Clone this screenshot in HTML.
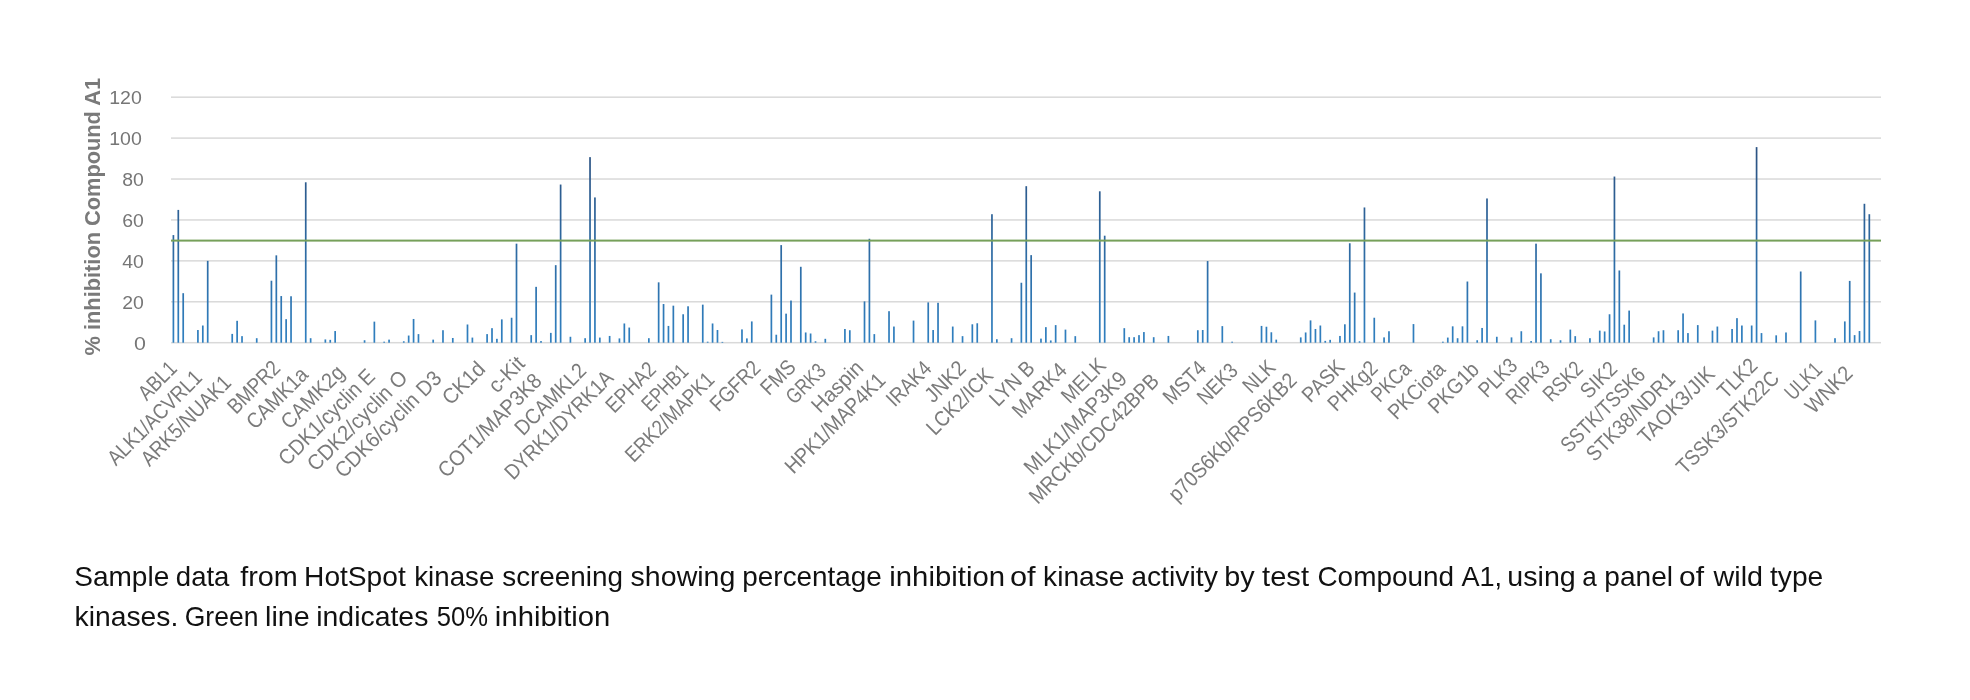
<!DOCTYPE html><html><head><meta charset="utf-8"><style>
html,body{margin:0;padding:0;background:#fff;}body{width:1970px;height:700px;overflow:hidden;position:relative;}
svg{position:absolute;left:0;top:0;will-change:transform;}
text{font-family:"Liberation Sans",sans-serif;}
</style></head><body>
<svg width="1970" height="700" viewBox="0 0 1970 700">
<defs><linearGradient id="bg" gradientUnits="userSpaceOnUse" x1="0" y1="343" x2="0" y2="150"><stop offset="0" stop-color="#3080c0"/><stop offset="1" stop-color="#2c5383"/></linearGradient></defs>
<rect x="171.0" y="341.95" width="1710.0" height="1.5" fill="#d9d9d9"/>
<rect x="171.0" y="301.03" width="1710.0" height="1.5" fill="#d9d9d9"/>
<rect x="171.0" y="260.11" width="1710.0" height="1.5" fill="#d9d9d9"/>
<rect x="171.0" y="219.19" width="1710.0" height="1.5" fill="#d9d9d9"/>
<rect x="171.0" y="178.27" width="1710.0" height="1.5" fill="#d9d9d9"/>
<rect x="171.0" y="137.35" width="1710.0" height="1.5" fill="#d9d9d9"/>
<rect x="171.0" y="96.43" width="1710.0" height="1.5" fill="#d9d9d9"/>
<rect x="172.55" y="235.08" width="1.7" height="107.62" fill="url(#bg)"/>
<rect x="177.45" y="209.91" width="1.7" height="132.79" fill="url(#bg)"/>
<rect x="182.35" y="293.19" width="1.7" height="49.51" fill="url(#bg)"/>
<rect x="197.06" y="330.01" width="1.7" height="12.69" fill="url(#bg)"/>
<rect x="201.96" y="325.51" width="1.7" height="17.19" fill="url(#bg)"/>
<rect x="206.86" y="260.86" width="1.7" height="81.84" fill="url(#bg)"/>
<rect x="231.37" y="333.90" width="1.7" height="8.80" fill="url(#bg)"/>
<rect x="236.27" y="320.81" width="1.7" height="21.89" fill="url(#bg)"/>
<rect x="241.17" y="336.15" width="1.7" height="6.55" fill="url(#bg)"/>
<rect x="255.88" y="338.20" width="1.7" height="4.50" fill="url(#bg)"/>
<rect x="270.58" y="280.71" width="1.7" height="61.99" fill="url(#bg)"/>
<rect x="275.48" y="255.34" width="1.7" height="87.36" fill="url(#bg)"/>
<rect x="280.38" y="296.05" width="1.7" height="46.65" fill="url(#bg)"/>
<rect x="285.28" y="319.17" width="1.7" height="23.53" fill="url(#bg)"/>
<rect x="290.19" y="296.26" width="1.7" height="46.44" fill="url(#bg)"/>
<rect x="304.89" y="182.29" width="1.7" height="160.41" fill="url(#bg)"/>
<rect x="309.79" y="338.20" width="1.7" height="4.50" fill="url(#bg)"/>
<rect x="324.50" y="339.43" width="1.7" height="3.27" fill="url(#bg)"/>
<rect x="329.40" y="339.84" width="1.7" height="2.86" fill="url(#bg)"/>
<rect x="334.30" y="331.04" width="1.7" height="11.66" fill="url(#bg)"/>
<rect x="363.71" y="340.24" width="1.7" height="2.46" fill="url(#bg)"/>
<rect x="373.51" y="321.63" width="1.7" height="21.07" fill="url(#bg)"/>
<rect x="383.31" y="341.68" width="1.7" height="1.02" fill="url(#bg)"/>
<rect x="388.22" y="339.63" width="1.7" height="3.07" fill="url(#bg)"/>
<rect x="402.92" y="341.27" width="1.7" height="1.43" fill="url(#bg)"/>
<rect x="407.82" y="335.54" width="1.7" height="7.16" fill="url(#bg)"/>
<rect x="412.72" y="318.97" width="1.7" height="23.73" fill="url(#bg)"/>
<rect x="417.62" y="334.11" width="1.7" height="8.59" fill="url(#bg)"/>
<rect x="432.33" y="339.63" width="1.7" height="3.07" fill="url(#bg)"/>
<rect x="442.13" y="330.22" width="1.7" height="12.48" fill="url(#bg)"/>
<rect x="451.94" y="337.99" width="1.7" height="4.71" fill="url(#bg)"/>
<rect x="466.64" y="324.49" width="1.7" height="18.21" fill="url(#bg)"/>
<rect x="471.54" y="337.58" width="1.7" height="5.11" fill="url(#bg)"/>
<rect x="486.25" y="334.11" width="1.7" height="8.59" fill="url(#bg)"/>
<rect x="491.15" y="328.17" width="1.7" height="14.53" fill="url(#bg)"/>
<rect x="496.05" y="338.81" width="1.7" height="3.89" fill="url(#bg)"/>
<rect x="500.95" y="319.38" width="1.7" height="23.32" fill="url(#bg)"/>
<rect x="510.75" y="317.74" width="1.7" height="24.96" fill="url(#bg)"/>
<rect x="515.65" y="243.67" width="1.7" height="99.03" fill="url(#bg)"/>
<rect x="530.36" y="335.13" width="1.7" height="7.57" fill="url(#bg)"/>
<rect x="535.26" y="286.84" width="1.7" height="55.86" fill="url(#bg)"/>
<rect x="540.16" y="341.06" width="1.7" height="1.64" fill="url(#bg)"/>
<rect x="549.97" y="332.88" width="1.7" height="9.82" fill="url(#bg)"/>
<rect x="554.87" y="265.16" width="1.7" height="77.54" fill="url(#bg)"/>
<rect x="559.77" y="184.54" width="1.7" height="158.16" fill="url(#bg)"/>
<rect x="569.57" y="336.77" width="1.7" height="5.93" fill="url(#bg)"/>
<rect x="584.28" y="338.20" width="1.7" height="4.50" fill="url(#bg)"/>
<rect x="589.18" y="157.13" width="1.7" height="185.57" fill="url(#bg)"/>
<rect x="594.08" y="197.43" width="1.7" height="145.27" fill="url(#bg)"/>
<rect x="598.98" y="337.58" width="1.7" height="5.11" fill="url(#bg)"/>
<rect x="608.78" y="335.95" width="1.7" height="6.75" fill="url(#bg)"/>
<rect x="618.59" y="338.40" width="1.7" height="4.30" fill="url(#bg)"/>
<rect x="623.49" y="323.47" width="1.7" height="19.23" fill="url(#bg)"/>
<rect x="628.39" y="327.56" width="1.7" height="15.14" fill="url(#bg)"/>
<rect x="648.00" y="338.20" width="1.7" height="4.50" fill="url(#bg)"/>
<rect x="657.80" y="282.34" width="1.7" height="60.36" fill="url(#bg)"/>
<rect x="662.70" y="304.03" width="1.7" height="38.67" fill="url(#bg)"/>
<rect x="667.60" y="325.92" width="1.7" height="16.78" fill="url(#bg)"/>
<rect x="672.50" y="305.67" width="1.7" height="37.03" fill="url(#bg)"/>
<rect x="682.31" y="314.26" width="1.7" height="28.44" fill="url(#bg)"/>
<rect x="687.21" y="306.28" width="1.7" height="36.42" fill="url(#bg)"/>
<rect x="701.91" y="304.64" width="1.7" height="38.06" fill="url(#bg)"/>
<rect x="706.81" y="341.68" width="1.7" height="1.02" fill="url(#bg)"/>
<rect x="711.72" y="323.47" width="1.7" height="19.23" fill="url(#bg)"/>
<rect x="716.62" y="330.01" width="1.7" height="12.69" fill="url(#bg)"/>
<rect x="721.52" y="341.88" width="1.7" height="0.82" fill="url(#bg)"/>
<rect x="741.12" y="329.40" width="1.7" height="13.30" fill="url(#bg)"/>
<rect x="746.03" y="338.40" width="1.7" height="4.30" fill="url(#bg)"/>
<rect x="750.93" y="321.42" width="1.7" height="21.28" fill="url(#bg)"/>
<rect x="770.53" y="294.62" width="1.7" height="48.08" fill="url(#bg)"/>
<rect x="775.43" y="334.72" width="1.7" height="7.98" fill="url(#bg)"/>
<rect x="780.34" y="245.11" width="1.7" height="97.59" fill="url(#bg)"/>
<rect x="785.24" y="313.65" width="1.7" height="29.05" fill="url(#bg)"/>
<rect x="790.14" y="300.55" width="1.7" height="42.15" fill="url(#bg)"/>
<rect x="799.94" y="266.79" width="1.7" height="75.91" fill="url(#bg)"/>
<rect x="804.84" y="332.47" width="1.7" height="10.23" fill="url(#bg)"/>
<rect x="809.75" y="333.49" width="1.7" height="9.21" fill="url(#bg)"/>
<rect x="814.65" y="341.27" width="1.7" height="1.43" fill="url(#bg)"/>
<rect x="824.45" y="338.81" width="1.7" height="3.89" fill="url(#bg)"/>
<rect x="844.06" y="328.99" width="1.7" height="13.71" fill="url(#bg)"/>
<rect x="848.96" y="330.22" width="1.7" height="12.48" fill="url(#bg)"/>
<rect x="863.66" y="301.37" width="1.7" height="41.33" fill="url(#bg)"/>
<rect x="868.56" y="238.76" width="1.7" height="103.94" fill="url(#bg)"/>
<rect x="873.46" y="334.11" width="1.7" height="8.59" fill="url(#bg)"/>
<rect x="888.17" y="311.19" width="1.7" height="31.51" fill="url(#bg)"/>
<rect x="893.07" y="326.54" width="1.7" height="16.16" fill="url(#bg)"/>
<rect x="912.68" y="320.60" width="1.7" height="22.10" fill="url(#bg)"/>
<rect x="927.38" y="302.39" width="1.7" height="40.31" fill="url(#bg)"/>
<rect x="932.28" y="330.01" width="1.7" height="12.69" fill="url(#bg)"/>
<rect x="937.18" y="302.80" width="1.7" height="39.90" fill="url(#bg)"/>
<rect x="951.89" y="326.54" width="1.7" height="16.16" fill="url(#bg)"/>
<rect x="961.69" y="336.15" width="1.7" height="6.55" fill="url(#bg)"/>
<rect x="971.49" y="324.29" width="1.7" height="18.41" fill="url(#bg)"/>
<rect x="976.40" y="323.26" width="1.7" height="19.44" fill="url(#bg)"/>
<rect x="991.10" y="214.21" width="1.7" height="128.49" fill="url(#bg)"/>
<rect x="996.00" y="339.22" width="1.7" height="3.48" fill="url(#bg)"/>
<rect x="1010.71" y="338.20" width="1.7" height="4.50" fill="url(#bg)"/>
<rect x="1020.51" y="282.75" width="1.7" height="59.95" fill="url(#bg)"/>
<rect x="1025.41" y="186.18" width="1.7" height="156.52" fill="url(#bg)"/>
<rect x="1030.31" y="255.13" width="1.7" height="87.57" fill="url(#bg)"/>
<rect x="1040.12" y="338.61" width="1.7" height="4.09" fill="url(#bg)"/>
<rect x="1045.02" y="327.15" width="1.7" height="15.55" fill="url(#bg)"/>
<rect x="1049.92" y="340.45" width="1.7" height="2.25" fill="url(#bg)"/>
<rect x="1054.82" y="325.10" width="1.7" height="17.60" fill="url(#bg)"/>
<rect x="1064.62" y="329.61" width="1.7" height="13.09" fill="url(#bg)"/>
<rect x="1074.43" y="336.15" width="1.7" height="6.55" fill="url(#bg)"/>
<rect x="1098.93" y="191.30" width="1.7" height="151.40" fill="url(#bg)"/>
<rect x="1103.84" y="235.69" width="1.7" height="107.01" fill="url(#bg)"/>
<rect x="1123.44" y="328.17" width="1.7" height="14.53" fill="url(#bg)"/>
<rect x="1128.34" y="337.18" width="1.7" height="5.52" fill="url(#bg)"/>
<rect x="1133.24" y="337.18" width="1.7" height="5.52" fill="url(#bg)"/>
<rect x="1138.15" y="335.13" width="1.7" height="7.57" fill="url(#bg)"/>
<rect x="1143.05" y="332.06" width="1.7" height="10.64" fill="url(#bg)"/>
<rect x="1152.85" y="337.18" width="1.7" height="5.52" fill="url(#bg)"/>
<rect x="1167.55" y="335.95" width="1.7" height="6.75" fill="url(#bg)"/>
<rect x="1196.96" y="330.22" width="1.7" height="12.48" fill="url(#bg)"/>
<rect x="1201.87" y="330.01" width="1.7" height="12.69" fill="url(#bg)"/>
<rect x="1206.77" y="261.06" width="1.7" height="81.64" fill="url(#bg)"/>
<rect x="1221.47" y="326.13" width="1.7" height="16.57" fill="url(#bg)"/>
<rect x="1231.27" y="341.68" width="1.7" height="1.02" fill="url(#bg)"/>
<rect x="1260.68" y="325.92" width="1.7" height="16.78" fill="url(#bg)"/>
<rect x="1265.58" y="326.74" width="1.7" height="15.96" fill="url(#bg)"/>
<rect x="1270.49" y="332.27" width="1.7" height="10.43" fill="url(#bg)"/>
<rect x="1275.39" y="339.63" width="1.7" height="3.07" fill="url(#bg)"/>
<rect x="1299.90" y="337.38" width="1.7" height="5.32" fill="url(#bg)"/>
<rect x="1304.80" y="332.47" width="1.7" height="10.23" fill="url(#bg)"/>
<rect x="1309.70" y="320.40" width="1.7" height="22.30" fill="url(#bg)"/>
<rect x="1314.60" y="328.99" width="1.7" height="13.71" fill="url(#bg)"/>
<rect x="1319.50" y="325.51" width="1.7" height="17.19" fill="url(#bg)"/>
<rect x="1324.40" y="340.86" width="1.7" height="1.84" fill="url(#bg)"/>
<rect x="1329.30" y="339.84" width="1.7" height="2.86" fill="url(#bg)"/>
<rect x="1339.11" y="335.95" width="1.7" height="6.75" fill="url(#bg)"/>
<rect x="1344.01" y="324.29" width="1.7" height="18.41" fill="url(#bg)"/>
<rect x="1348.91" y="243.26" width="1.7" height="99.44" fill="url(#bg)"/>
<rect x="1353.81" y="292.57" width="1.7" height="50.13" fill="url(#bg)"/>
<rect x="1358.71" y="341.27" width="1.7" height="1.43" fill="url(#bg)"/>
<rect x="1363.61" y="207.46" width="1.7" height="135.24" fill="url(#bg)"/>
<rect x="1373.42" y="317.74" width="1.7" height="24.96" fill="url(#bg)"/>
<rect x="1383.22" y="337.38" width="1.7" height="5.32" fill="url(#bg)"/>
<rect x="1388.12" y="331.24" width="1.7" height="11.46" fill="url(#bg)"/>
<rect x="1412.63" y="324.08" width="1.7" height="18.62" fill="url(#bg)"/>
<rect x="1442.04" y="341.68" width="1.7" height="1.02" fill="url(#bg)"/>
<rect x="1446.94" y="337.58" width="1.7" height="5.11" fill="url(#bg)"/>
<rect x="1451.84" y="326.33" width="1.7" height="16.37" fill="url(#bg)"/>
<rect x="1456.74" y="338.20" width="1.7" height="4.50" fill="url(#bg)"/>
<rect x="1461.64" y="326.33" width="1.7" height="16.37" fill="url(#bg)"/>
<rect x="1466.55" y="281.52" width="1.7" height="61.18" fill="url(#bg)"/>
<rect x="1476.35" y="340.24" width="1.7" height="2.46" fill="url(#bg)"/>
<rect x="1481.25" y="327.97" width="1.7" height="14.73" fill="url(#bg)"/>
<rect x="1486.15" y="198.46" width="1.7" height="144.24" fill="url(#bg)"/>
<rect x="1495.96" y="336.77" width="1.7" height="5.93" fill="url(#bg)"/>
<rect x="1510.66" y="337.38" width="1.7" height="5.32" fill="url(#bg)"/>
<rect x="1520.46" y="331.24" width="1.7" height="11.46" fill="url(#bg)"/>
<rect x="1530.27" y="341.06" width="1.7" height="1.64" fill="url(#bg)"/>
<rect x="1535.17" y="243.67" width="1.7" height="99.03" fill="url(#bg)"/>
<rect x="1540.07" y="273.34" width="1.7" height="69.36" fill="url(#bg)"/>
<rect x="1549.87" y="339.22" width="1.7" height="3.48" fill="url(#bg)"/>
<rect x="1559.67" y="340.24" width="1.7" height="2.46" fill="url(#bg)"/>
<rect x="1569.48" y="329.61" width="1.7" height="13.09" fill="url(#bg)"/>
<rect x="1574.38" y="336.15" width="1.7" height="6.55" fill="url(#bg)"/>
<rect x="1589.08" y="338.20" width="1.7" height="4.50" fill="url(#bg)"/>
<rect x="1598.89" y="330.63" width="1.7" height="12.07" fill="url(#bg)"/>
<rect x="1603.79" y="331.45" width="1.7" height="11.25" fill="url(#bg)"/>
<rect x="1608.69" y="314.26" width="1.7" height="28.44" fill="url(#bg)"/>
<rect x="1613.59" y="176.56" width="1.7" height="166.14" fill="url(#bg)"/>
<rect x="1618.49" y="270.48" width="1.7" height="72.22" fill="url(#bg)"/>
<rect x="1623.39" y="324.70" width="1.7" height="18.00" fill="url(#bg)"/>
<rect x="1628.30" y="310.58" width="1.7" height="32.12" fill="url(#bg)"/>
<rect x="1652.80" y="337.38" width="1.7" height="5.32" fill="url(#bg)"/>
<rect x="1657.70" y="331.24" width="1.7" height="11.46" fill="url(#bg)"/>
<rect x="1662.61" y="330.22" width="1.7" height="12.48" fill="url(#bg)"/>
<rect x="1677.31" y="330.22" width="1.7" height="12.48" fill="url(#bg)"/>
<rect x="1682.21" y="313.44" width="1.7" height="29.26" fill="url(#bg)"/>
<rect x="1687.11" y="333.08" width="1.7" height="9.62" fill="url(#bg)"/>
<rect x="1696.92" y="325.10" width="1.7" height="17.60" fill="url(#bg)"/>
<rect x="1711.62" y="330.63" width="1.7" height="12.07" fill="url(#bg)"/>
<rect x="1716.52" y="326.54" width="1.7" height="16.16" fill="url(#bg)"/>
<rect x="1731.23" y="328.99" width="1.7" height="13.71" fill="url(#bg)"/>
<rect x="1736.13" y="318.15" width="1.7" height="24.55" fill="url(#bg)"/>
<rect x="1741.03" y="325.51" width="1.7" height="17.19" fill="url(#bg)"/>
<rect x="1750.83" y="325.51" width="1.7" height="17.19" fill="url(#bg)"/>
<rect x="1755.73" y="147.10" width="1.7" height="195.60" fill="url(#bg)"/>
<rect x="1760.64" y="333.08" width="1.7" height="9.62" fill="url(#bg)"/>
<rect x="1775.34" y="335.33" width="1.7" height="7.37" fill="url(#bg)"/>
<rect x="1785.14" y="332.47" width="1.7" height="10.23" fill="url(#bg)"/>
<rect x="1799.85" y="271.50" width="1.7" height="71.20" fill="url(#bg)"/>
<rect x="1814.55" y="320.40" width="1.7" height="22.30" fill="url(#bg)"/>
<rect x="1834.16" y="338.20" width="1.7" height="4.50" fill="url(#bg)"/>
<rect x="1843.96" y="321.42" width="1.7" height="21.28" fill="url(#bg)"/>
<rect x="1848.86" y="280.91" width="1.7" height="61.79" fill="url(#bg)"/>
<rect x="1853.76" y="335.13" width="1.7" height="7.57" fill="url(#bg)"/>
<rect x="1858.67" y="331.04" width="1.7" height="11.66" fill="url(#bg)"/>
<rect x="1863.57" y="203.78" width="1.7" height="138.92" fill="url(#bg)"/>
<rect x="1868.47" y="214.21" width="1.7" height="128.49" fill="url(#bg)"/>
<rect x="171.0" y="239.60" width="1710.0" height="2.0" fill="#76a05a"/>
<text x="146.0" y="349.70" text-anchor="end" font-size="17.5" fill="#767676" textLength="11.9" lengthAdjust="spacingAndGlyphs">0</text>
<text x="143.9" y="308.78" text-anchor="end" font-size="17.5" fill="#767676" textLength="21.6" lengthAdjust="spacingAndGlyphs">20</text>
<text x="143.9" y="267.86" text-anchor="end" font-size="17.5" fill="#767676" textLength="21.6" lengthAdjust="spacingAndGlyphs">40</text>
<text x="143.9" y="226.94" text-anchor="end" font-size="17.5" fill="#767676" textLength="21.6" lengthAdjust="spacingAndGlyphs">60</text>
<text x="143.9" y="186.02" text-anchor="end" font-size="17.5" fill="#767676" textLength="21.6" lengthAdjust="spacingAndGlyphs">80</text>
<text x="141.8" y="145.10" text-anchor="end" font-size="17.5" fill="#767676" textLength="32.6" lengthAdjust="spacingAndGlyphs">100</text>
<text x="141.8" y="104.18" text-anchor="end" font-size="17.5" fill="#767676" textLength="32.6" lengthAdjust="spacingAndGlyphs">120</text>
<text transform="translate(99.6,216.7) rotate(-90)" text-anchor="middle" font-size="22" font-weight="bold" fill="#7a7a7a" textLength="277.4" lengthAdjust="spacingAndGlyphs">% inhibition Compound A1</text>
<text x="74.22" y="586" font-size="28" fill="#111" textLength="95.02" lengthAdjust="spacingAndGlyphs">Sample</text>
<text x="175.84" y="586" font-size="28" fill="#111" textLength="53.61" lengthAdjust="spacingAndGlyphs">data</text>
<text x="240.18" y="586" font-size="28" fill="#111" textLength="57.57" lengthAdjust="spacingAndGlyphs">from</text>
<text x="304.07" y="586" font-size="28" fill="#111" textLength="101.66" lengthAdjust="spacingAndGlyphs">HotSpot</text>
<text x="414.28" y="586" font-size="28" fill="#111" textLength="80.02" lengthAdjust="spacingAndGlyphs">kinase</text>
<text x="502.21" y="586" font-size="28" fill="#111" textLength="120.79" lengthAdjust="spacingAndGlyphs">screening</text>
<text x="630.60" y="586" font-size="28" fill="#111" textLength="104.77" lengthAdjust="spacingAndGlyphs">showing</text>
<text x="742.36" y="586" font-size="28" fill="#111" textLength="139.51" lengthAdjust="spacingAndGlyphs">percentage</text>
<text x="889.30" y="586" font-size="28" fill="#111" textLength="115.75" lengthAdjust="spacingAndGlyphs">inhibition</text>
<text x="1010.01" y="586" font-size="28" fill="#111" textLength="25.64" lengthAdjust="spacingAndGlyphs">of</text>
<text x="1043.08" y="586" font-size="28" fill="#111" textLength="81.41" lengthAdjust="spacingAndGlyphs">kinase</text>
<text x="1131.15" y="586" font-size="28" fill="#111" textLength="86.67" lengthAdjust="spacingAndGlyphs">activity</text>
<text x="1224.28" y="586" font-size="28" fill="#111" textLength="30.39" lengthAdjust="spacingAndGlyphs">by</text>
<text x="1262.08" y="586" font-size="28" fill="#111" textLength="46.94" lengthAdjust="spacingAndGlyphs">test</text>
<text x="1317.44" y="586" font-size="28" fill="#111" textLength="136.61" lengthAdjust="spacingAndGlyphs">Compound</text>
<text x="1461.39" y="586" font-size="28" fill="#111" textLength="40.72" lengthAdjust="spacingAndGlyphs">A1,</text>
<text x="1507.32" y="586" font-size="28" fill="#111" textLength="68.43" lengthAdjust="spacingAndGlyphs">using</text>
<text x="1582.19" y="586" font-size="28" fill="#111" textLength="14.50" lengthAdjust="spacingAndGlyphs">a</text>
<text x="1604.34" y="586" font-size="28" fill="#111" textLength="68.67" lengthAdjust="spacingAndGlyphs">panel</text>
<text x="1679.04" y="586" font-size="28" fill="#111" textLength="25.00" lengthAdjust="spacingAndGlyphs">of</text>
<text x="1713.58" y="586" font-size="28" fill="#111" textLength="49.44" lengthAdjust="spacingAndGlyphs">wild</text>
<text x="1770.03" y="586" font-size="28" fill="#111" textLength="53.25" lengthAdjust="spacingAndGlyphs">type</text>
<text x="74.63" y="626" font-size="28" fill="#111" textLength="103.69" lengthAdjust="spacingAndGlyphs">kinases.</text>
<text x="184.75" y="626" font-size="28" fill="#111" textLength="73.62" lengthAdjust="spacingAndGlyphs">Green</text>
<text x="265.04" y="626" font-size="28" fill="#111" textLength="44.64" lengthAdjust="spacingAndGlyphs">line</text>
<text x="316.28" y="626" font-size="28" fill="#111" textLength="112.08" lengthAdjust="spacingAndGlyphs">indicates</text>
<text x="436.82" y="626" font-size="28" fill="#111" textLength="51.28" lengthAdjust="spacingAndGlyphs">50%</text>
<text x="494.88" y="626" font-size="28" fill="#111" textLength="115.50" lengthAdjust="spacingAndGlyphs">inhibition</text>
<text transform="translate(178.25,369.80) rotate(-45)" text-anchor="end" font-size="21.5" fill="#7b7b7b" textLength="44.73" lengthAdjust="spacingAndGlyphs">ABL1</text>
<text transform="translate(203.35,379.00) rotate(-45)" text-anchor="end" font-size="21.5" fill="#7b7b7b" textLength="123.69" lengthAdjust="spacingAndGlyphs">ALK1/ACVRL1</text>
<text transform="translate(232.45,384.20) rotate(-45)" text-anchor="end" font-size="21.5" fill="#7b7b7b" textLength="117.42" lengthAdjust="spacingAndGlyphs">ARK5/NUAK1</text>
<text transform="translate(281.54,369.40) rotate(-45)" text-anchor="end" font-size="21.5" fill="#7b7b7b" textLength="64.42" lengthAdjust="spacingAndGlyphs">BMPR2</text>
<text transform="translate(309.44,375.80) rotate(-45)" text-anchor="end" font-size="21.5" fill="#7b7b7b" textLength="77.11" lengthAdjust="spacingAndGlyphs">CAMK1a</text>
<text transform="translate(345.74,373.80) rotate(-45)" text-anchor="end" font-size="21.5" fill="#7b7b7b" textLength="79.66" lengthAdjust="spacingAndGlyphs">CAMK2g</text>
<text transform="translate(376.24,377.60) rotate(-45)" text-anchor="end" font-size="21.5" fill="#7b7b7b" textLength="126.12" lengthAdjust="spacingAndGlyphs">CDK1/cyclin E</text>
<text transform="translate(408.94,379.20) rotate(-45)" text-anchor="end" font-size="21.5" fill="#7b7b7b" textLength="131.76" lengthAdjust="spacingAndGlyphs">CDK2/cyclin O</text>
<text transform="translate(442.83,379.60) rotate(-45)" text-anchor="end" font-size="21.5" fill="#7b7b7b" textLength="140.49" lengthAdjust="spacingAndGlyphs">CDK6/cyclin D3</text>
<text transform="translate(486.53,370.20) rotate(-45)" text-anchor="end" font-size="21.5" fill="#7b7b7b" textLength="50.72" lengthAdjust="spacingAndGlyphs">CK1d</text>
<text transform="translate(526.03,365.00) rotate(-45)" text-anchor="end" font-size="21.5" fill="#7b7b7b" textLength="41.09" lengthAdjust="spacingAndGlyphs">c-Kit</text>
<text transform="translate(543.13,382.20) rotate(-45)" text-anchor="end" font-size="21.5" fill="#7b7b7b" textLength="136.49" lengthAdjust="spacingAndGlyphs">COT1/MAP3K8</text>
<text transform="translate(587.63,372.00) rotate(-45)" text-anchor="end" font-size="21.5" fill="#7b7b7b" textLength="91.14" lengthAdjust="spacingAndGlyphs">DCAMKL2</text>
<text transform="translate(614.72,379.20) rotate(-45)" text-anchor="end" font-size="21.5" fill="#7b7b7b" textLength="143.65" lengthAdjust="spacingAndGlyphs">DYRK1/DYRK1A</text>
<text transform="translate(657.42,370.80) rotate(-45)" text-anchor="end" font-size="21.5" fill="#7b7b7b" textLength="61.07" lengthAdjust="spacingAndGlyphs">EPHA2</text>
<text transform="translate(689.72,372.80) rotate(-45)" text-anchor="end" font-size="21.5" fill="#7b7b7b" textLength="55.97" lengthAdjust="spacingAndGlyphs">EPHB1</text>
<text transform="translate(715.82,381.00) rotate(-45)" text-anchor="end" font-size="21.5" fill="#7b7b7b" textLength="116.17" lengthAdjust="spacingAndGlyphs">ERK2/MAPK1</text>
<text transform="translate(761.72,369.40) rotate(-45)" text-anchor="end" font-size="21.5" fill="#7b7b7b" textLength="61.04" lengthAdjust="spacingAndGlyphs">FGFR2</text>
<text transform="translate(797.01,368.40) rotate(-45)" text-anchor="end" font-size="21.5" fill="#7b7b7b" textLength="39.47" lengthAdjust="spacingAndGlyphs">FMS</text>
<text transform="translate(827.31,372.40) rotate(-45)" text-anchor="end" font-size="21.5" fill="#7b7b7b" textLength="46.46" lengthAdjust="spacingAndGlyphs">GRK3</text>
<text transform="translate(864.61,369.40) rotate(-45)" text-anchor="end" font-size="21.5" fill="#7b7b7b" textLength="63.04" lengthAdjust="spacingAndGlyphs">Haspin</text>
<text transform="translate(886.71,381.60) rotate(-45)" text-anchor="end" font-size="21.5" fill="#7b7b7b" textLength="131.92" lengthAdjust="spacingAndGlyphs">HPK1/MAP4K1</text>
<text transform="translate(932.81,369.80) rotate(-45)" text-anchor="end" font-size="21.5" fill="#7b7b7b" textLength="53.79" lengthAdjust="spacingAndGlyphs">IRAK4</text>
<text transform="translate(967.30,369.60) rotate(-45)" text-anchor="end" font-size="21.5" fill="#7b7b7b" textLength="48.27" lengthAdjust="spacingAndGlyphs">JNK2</text>
<text transform="translate(994.40,376.80) rotate(-45)" text-anchor="end" font-size="21.5" fill="#7b7b7b" textLength="84.16" lengthAdjust="spacingAndGlyphs">LCK2/ICK</text>
<text transform="translate(1035.90,369.60) rotate(-45)" text-anchor="end" font-size="21.5" fill="#7b7b7b" textLength="53.67" lengthAdjust="spacingAndGlyphs">LYN B</text>
<text transform="translate(1068.20,371.60) rotate(-45)" text-anchor="end" font-size="21.5" fill="#7b7b7b" textLength="67.23" lengthAdjust="spacingAndGlyphs">MARK4</text>
<text transform="translate(1107.30,366.80) rotate(-45)" text-anchor="end" font-size="21.5" fill="#7b7b7b" textLength="53.22" lengthAdjust="spacingAndGlyphs">MELK</text>
<text transform="translate(1128.19,380.20) rotate(-45)" text-anchor="end" font-size="21.5" fill="#7b7b7b" textLength="135.22" lengthAdjust="spacingAndGlyphs">MLK1/MAP3K9</text>
<text transform="translate(1160.29,382.40) rotate(-45)" text-anchor="end" font-size="21.5" fill="#7b7b7b" textLength="173.46" lengthAdjust="spacingAndGlyphs">MRCKb/CDC42BPB</text>
<text transform="translate(1207.59,369.40) rotate(-45)" text-anchor="end" font-size="21.5" fill="#7b7b7b" textLength="51.14" lengthAdjust="spacingAndGlyphs">MST4</text>
<text transform="translate(1239.29,372.00) rotate(-45)" text-anchor="end" font-size="21.5" fill="#7b7b7b" textLength="47.58" lengthAdjust="spacingAndGlyphs">NEK3</text>
<text transform="translate(1276.79,368.80) rotate(-45)" text-anchor="end" font-size="21.5" fill="#7b7b7b" textLength="36.12" lengthAdjust="spacingAndGlyphs">NLK</text>
<text transform="translate(1298.08,381.80) rotate(-45)" text-anchor="end" font-size="21.5" fill="#7b7b7b" textLength="171.17" lengthAdjust="spacingAndGlyphs">p70S6Kb/RPS6KB2</text>
<text transform="translate(1345.78,368.40) rotate(-45)" text-anchor="end" font-size="21.5" fill="#7b7b7b" textLength="49.78" lengthAdjust="spacingAndGlyphs">PASK</text>
<text transform="translate(1379.08,369.40) rotate(-45)" text-anchor="end" font-size="21.5" fill="#7b7b7b" textLength="60.52" lengthAdjust="spacingAndGlyphs">PHKg2</text>
<text transform="translate(1412.38,370.40) rotate(-45)" text-anchor="end" font-size="21.5" fill="#7b7b7b" textLength="46.31" lengthAdjust="spacingAndGlyphs">PKCa</text>
<text transform="translate(1446.68,370.40) rotate(-45)" text-anchor="end" font-size="21.5" fill="#7b7b7b" textLength="71.15" lengthAdjust="spacingAndGlyphs">PKCiota</text>
<text transform="translate(1480.37,371.00) rotate(-45)" text-anchor="end" font-size="21.5" fill="#7b7b7b" textLength="61.82" lengthAdjust="spacingAndGlyphs">PKG1b</text>
<text transform="translate(1518.67,367.00) rotate(-45)" text-anchor="end" font-size="21.5" fill="#7b7b7b" textLength="44.73" lengthAdjust="spacingAndGlyphs">PLK3</text>
<text transform="translate(1550.97,369.00) rotate(-45)" text-anchor="end" font-size="21.5" fill="#7b7b7b" textLength="51.50" lengthAdjust="spacingAndGlyphs">RIPK3</text>
<text transform="translate(1584.27,370.00) rotate(-45)" text-anchor="end" font-size="21.5" fill="#7b7b7b" textLength="46.31" lengthAdjust="spacingAndGlyphs">RSK2</text>
<text transform="translate(1618.57,370.00) rotate(-45)" text-anchor="end" font-size="21.5" fill="#7b7b7b" textLength="42.07" lengthAdjust="spacingAndGlyphs">SIK2</text>
<text transform="translate(1646.66,376.20) rotate(-45)" text-anchor="end" font-size="21.5" fill="#7b7b7b" textLength="109.46" lengthAdjust="spacingAndGlyphs">SSTK/TSSK6</text>
<text transform="translate(1676.56,380.60) rotate(-45)" text-anchor="end" font-size="21.5" fill="#7b7b7b" textLength="115.82" lengthAdjust="spacingAndGlyphs">STK38/NDR1</text>
<text transform="translate(1716.06,375.40) rotate(-45)" text-anchor="end" font-size="21.5" fill="#7b7b7b" textLength="98.50" lengthAdjust="spacingAndGlyphs">TAOK3/JIK</text>
<text transform="translate(1758.76,367.00) rotate(-45)" text-anchor="end" font-size="21.5" fill="#7b7b7b" textLength="46.22" lengthAdjust="spacingAndGlyphs">TLK2</text>
<text transform="translate(1780.46,379.60) rotate(-45)" text-anchor="end" font-size="21.5" fill="#7b7b7b" textLength="135.10" lengthAdjust="spacingAndGlyphs">TSSK3/STK22C</text>
<text transform="translate(1823.35,371.00) rotate(-45)" text-anchor="end" font-size="21.5" fill="#7b7b7b" textLength="42.70" lengthAdjust="spacingAndGlyphs">ULK1</text>
<text transform="translate(1853.85,374.80) rotate(-45)" text-anchor="end" font-size="21.5" fill="#7b7b7b" textLength="56.57" lengthAdjust="spacingAndGlyphs">WNK2</text>
</svg></body></html>
